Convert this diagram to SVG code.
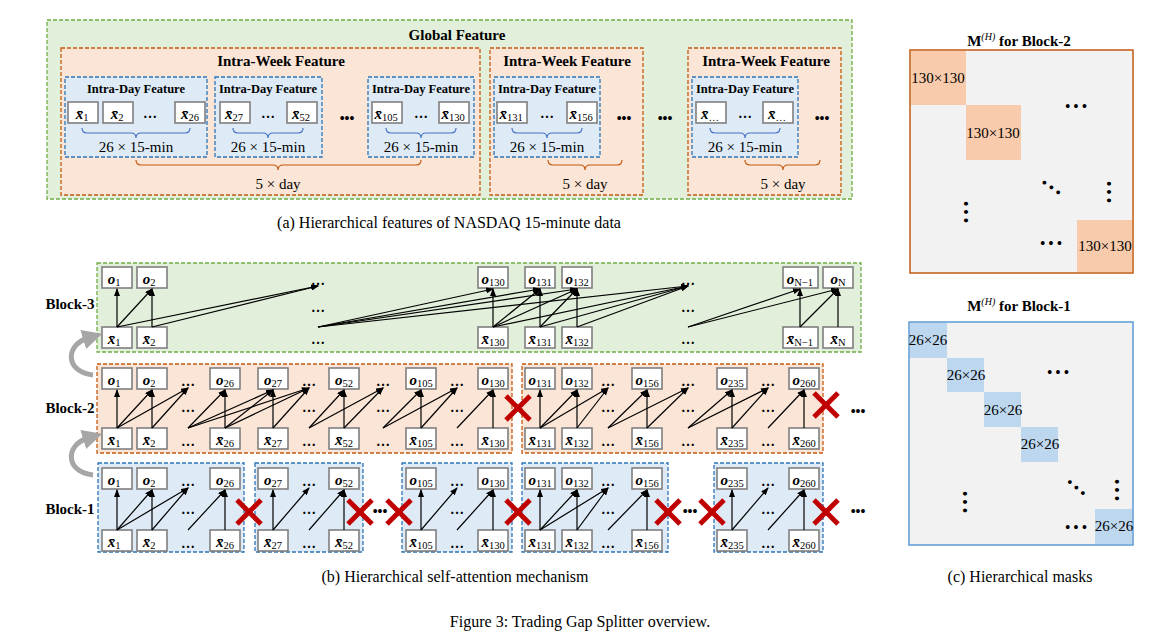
<svg xmlns="http://www.w3.org/2000/svg" width="1163" height="642" viewBox="0 0 1163 642">
<style>
text{font-family:"Liberation Serif",serif;fill:#000}
.t{font-weight:bold;font-size:15px;text-anchor:middle}
.ts{font-weight:bold;font-size:12.5px;text-anchor:middle}
.m{font-size:15px;text-anchor:middle}
.cap{font-size:16px;text-anchor:middle}
.v{font-weight:bold;font-style:italic;font-size:15px;text-anchor:middle}
.v tspan{font-style:normal;font-weight:normal;font-size:10.5px}
.d{font-weight:bold;font-size:14px;text-anchor:middle}
.c{fill:#fff;stroke:#7f7f7f;stroke-width:1.6}
.g{fill:#e2efda;stroke:#70ad47;stroke-width:1.3;stroke-dasharray:4 2}
.o{fill:#fbe5d6;stroke:#c55a11;stroke-width:1.3;stroke-dasharray:4 2}
.b{fill:#deebf7;stroke:#2e75b6;stroke-width:1.3;stroke-dasharray:4 2}
.br{fill:none;stroke:#4472c4;stroke-width:1.2}
.bo{fill:none;stroke:#c55a11;stroke-width:1.2}
#conn line{stroke:#000;stroke-width:1.2;marker-end:url(#ah)}
.x line{stroke:#c00000;stroke-width:5}
</style>
<defs>
<marker id="ah" markerWidth="8" markerHeight="6" refX="7" refY="3" orient="auto" markerUnits="userSpaceOnUse"><path d="M0,0L8,3L0,6z" fill="#000"/></marker>
<g id="X" class="x"><line x1="-12" y1="-12" x2="12" y2="12"/><line x1="12" y1="-12" x2="-12" y2="12"/></g>
</defs>
<rect width="1163" height="642" fill="#fff"/>

<!-- (a) -->
<g id="global">
<rect class="g" x="47" y="20" width="805" height="179"/>
<text class="t" x="457" y="40">Global Feature</text>
</g>
<g id="week1">
<rect class="o" x="61" y="48" width="419" height="147"/>
<text class="t" x="281" y="66" font-size="14">Intra-Week Feature</text>
<rect class="b" x="65" y="77" width="142" height="80"/>
<text class="ts" x="136" y="93">Intra-Day Feature</text>
<rect class="c" x="68" y="102" width="30" height="21"/><text class="v" x="82" y="119">x̄<tspan dy="2">1</tspan></text>
<rect class="c" x="103" y="102" width="30" height="21"/><text class="v" x="117" y="119">x̄<tspan dy="2">2</tspan></text>
<text class="d" x="150" y="118">…</text>
<rect class="c" x="175" y="102" width="30" height="21"/><text class="v" x="190" y="119">x̄<tspan dy="2">26</tspan></text>
<path class="br" d="M82,128q0,5 5,5h44q5,0 5,5q0,-5 5,-5h44q5,0 5,-5"/>
<text class="m" x="136" y="152">26 × 15-min</text>
<rect class="b" x="215" y="77" width="107" height="80"/>
<text class="ts" x="268" y="93">Intra-Day Feature</text>
<rect class="c" x="220" y="102" width="30" height="21"/><text class="v" x="234" y="119">x̄<tspan dy="2">27</tspan></text>
<text class="d" x="268" y="118">…</text>
<rect class="c" x="287" y="102" width="30" height="21"/><text class="v" x="301" y="119">x̄<tspan dy="2">52</tspan></text>
<path class="br" d="M233,128q0,5 5,5h25q5,0 5,5q0,-5 5,-5h25q5,0 5,-5"/>
<text class="m" x="268" y="152">26 × 15-min</text>
<text class="d" x="347" y="123">•••</text>
<rect class="b" x="368" y="77" width="106" height="80"/>
<text class="ts" x="421" y="93">Intra-Day Feature</text>
<rect class="c" x="372" y="102" width="30" height="21"/><text class="v" x="386" y="119">x̄<tspan dy="2">105</tspan></text>
<text class="d" x="421" y="118">…</text>
<rect class="c" x="439" y="102" width="30" height="21"/><text class="v" x="453" y="119">x̄<tspan dy="2">130</tspan></text>
<path class="br" d="M386,128q0,5 5,5h25q5,0 5,5q0,-5 5,-5h25q5,0 5,-5"/>
<text class="m" x="421" y="152">26 × 15-min</text>
<path class="bo" d="M136,160q0,5 5,5h132q5,0 5,5q0,-5 5,-5h133q5,0 5,-5"/>
<text class="m" x="278" y="189">5 × day</text>
</g>
<g id="week2">
<rect class="o" x="490" y="48" width="153" height="147"/>
<text class="t" x="567" y="66" font-size="14">Intra-Week Feature</text>
<rect class="b" x="494" y="77" width="106" height="80"/>
<text class="ts" x="547" y="93">Intra-Day Feature</text>
<rect class="c" x="497" y="102" width="30" height="21"/><text class="v" x="511" y="119">x̄<tspan dy="2">131</tspan></text>
<text class="d" x="547" y="118">…</text>
<rect class="c" x="567" y="102" width="30" height="21"/><text class="v" x="581" y="119">x̄<tspan dy="2">156</tspan></text>
<path class="br" d="M512,128q0,5 5,5h25q5,0 5,5q0,-5 5,-5h25q5,0 5,-5"/>
<text class="m" x="547" y="152">26 × 15-min</text>
<text class="d" x="624" y="123">•••</text>
<path class="bo" d="M548,160q0,5 5,5h27q5,0 5,5q0,-5 5,-5h27q5,0 5,-5"/>
<text class="m" x="585" y="189">5 × day</text>
</g>
<text class="d" x="665" y="123">•••</text>
<g id="week3">
<rect class="o" x="688" y="48" width="153" height="147"/>
<text class="t" x="766" y="66" font-size="14">Intra-Week Feature</text>
<rect class="b" x="692" y="77" width="106" height="80"/>
<text class="ts" x="745" y="93">Intra-Day Feature</text>
<rect class="c" x="696" y="102" width="30" height="21"/><text class="v" x="710" y="119">x̄<tspan dy="2">…</tspan></text>
<text class="d" x="745" y="118">…</text>
<rect class="c" x="763" y="102" width="30" height="21"/><text class="v" x="777" y="119">x̄<tspan dy="2">…</tspan></text>
<path class="br" d="M710,128q0,5 5,5h25q5,0 5,5q0,-5 5,-5h25q5,0 5,-5"/>
<text class="m" x="745" y="152">26 × 15-min</text>
<text class="d" x="822" y="123">•••</text>
<path class="bo" d="M745,160q0,5 5,5h28q5,0 5,5q0,-5 5,-5h27q5,0 5,-5"/>
<text class="m" x="783" y="189">5 × day</text>
</g>
<text class="cap" x="449" y="228">(a) Hierarchical features of NASDAQ 15-minute data</text>

<!-- (c) -->
<g id="mask2">
<text class="t" x="1019" y="46">M<tspan font-size="10" dy="-6" font-style="italic" font-weight="normal">(H)</tspan><tspan dy="6"> for Block-2</tspan></text>
<rect x="910" y="50" width="223" height="223" fill="#f2f2f2" stroke="#c55a11" stroke-width="1.5"/>
<rect x="911" y="51" width="55" height="54" fill="#f8cbad"/>
<rect x="966" y="105" width="55" height="55" fill="#f8cbad"/>
<rect x="1077" y="220" width="55" height="52" fill="#f8cbad"/>
<text class="m" x="938" y="83" font-size="13">130×130</text>
<text class="m" x="993" y="138" font-size="13">130×130</text>
<text class="m" x="1105" y="251" font-size="13">130×130</text>
<text class="d" x="1076" y="111">• • •</text>
<text class="d" x="1051" y="248">• • •</text>
<text class="d" x="961" y="212" transform="rotate(90 961 212)" text-anchor="middle">• • •</text>
<text class="d" x="1104" y="192" transform="rotate(90 1104 192)">• • •</text>
<text class="d" x="1051" y="192" transform="rotate(35 1051 188)">• • •</text>
</g>
<g id="mask1">
<text class="t" x="1019" y="311">M<tspan font-size="10" dy="-6" font-style="italic" font-weight="normal">(H)</tspan><tspan dy="6"> for Block-1</tspan></text>
<rect x="909" y="322" width="224" height="223" fill="#f2f2f2" stroke="#5b9bd5" stroke-width="1.5"/>
<rect x="910" y="323" width="37" height="35" fill="#bdd7ee"/>
<rect x="947" y="358" width="37" height="34" fill="#bdd7ee"/>
<rect x="984" y="392" width="37" height="35" fill="#bdd7ee"/>
<rect x="1021" y="427" width="37" height="35" fill="#bdd7ee"/>
<rect x="1095" y="509" width="37" height="35" fill="#bdd7ee"/>
<text class="m" x="928" y="345" font-size="11.5">26×26</text>
<text class="m" x="966" y="380" font-size="11.5">26×26</text>
<text class="m" x="1003" y="415" font-size="11.5">26×26</text>
<text class="m" x="1040" y="449" font-size="11.5">26×26</text>
<text class="m" x="1114" y="531" font-size="11.5">26×26</text>
<text class="d" x="1058" y="377">• • •</text>
<text class="d" x="1076" y="532">• • •</text>
<text class="d" x="960" y="502" transform="rotate(90 960 502)">• • •</text>
<text class="d" x="1112" y="490" transform="rotate(90 1112 490)">• • •</text>
<text class="d" x="1076" y="492" transform="rotate(40 1076 488)">• • •</text>
</g>
<text class="cap" x="1020" y="582">(c) Hierarchical masks</text>

<!-- (b) -->
<g id="block3">
<rect class="g" x="97" y="263" width="764" height="89"/>
<text class="t" x="70" y="309" font-size="14">Block-3</text>
<rect class="c" x="102" y="267" width="30" height="21"/><text class="v" x="114" y="284">o<tspan dy="2">1</tspan></text>
<rect class="c" x="137" y="267" width="30" height="21"/><text class="v" x="149" y="284">o<tspan dy="2">2</tspan></text>
<rect class="c" x="478" y="267" width="30" height="21"/><text class="v" x="493" y="284">o<tspan dy="2">130</tspan></text>
<rect class="c" x="525" y="267" width="30" height="21"/><text class="v" x="540" y="284">o<tspan dy="2">131</tspan></text>
<rect class="c" x="562" y="267" width="30" height="21"/><text class="v" x="577" y="284">o<tspan dy="2">132</tspan></text>
<rect class="c" x="783" y="267" width="35" height="21"/><text class="v" x="800" y="284">o<tspan dy="2">N−1</tspan></text>
<rect class="c" x="823" y="267" width="30" height="21"/><text class="v" x="838" y="284">o<tspan dy="2">N</tspan></text>
<rect class="c" x="102" y="327" width="30" height="21"/><text class="v" x="114" y="344">x̄<tspan dy="2">1</tspan></text>
<rect class="c" x="137" y="327" width="30" height="21"/><text class="v" x="149" y="344">x̄<tspan dy="2">2</tspan></text>
<rect class="c" x="478" y="327" width="30" height="21"/><text class="v" x="493" y="344">x̄<tspan dy="2">130</tspan></text>
<rect class="c" x="525" y="327" width="30" height="21"/><text class="v" x="540" y="344">x̄<tspan dy="2">131</tspan></text>
<rect class="c" x="562" y="327" width="30" height="21"/><text class="v" x="577" y="344">x̄<tspan dy="2">132</tspan></text>
<rect class="c" x="783" y="327" width="35" height="21"/><text class="v" x="800" y="344">x̄<tspan dy="2">N−1</tspan></text>
<rect class="c" x="823" y="327" width="30" height="21"/><text class="v" x="838" y="344">x̄<tspan dy="2">N</tspan></text>
<text class="d" x="318" y="285">…</text><text class="d" x="318" y="312">…</text><text class="d" x="318" y="344">…</text>
<text class="d" x="688" y="285">…</text><text class="d" x="688" y="312">…</text><text class="d" x="688" y="344">…</text>
</g>
<g id="block2">
<rect class="o" x="97" y="364" width="415" height="89"/>
<rect class="o" x="522" y="364" width="301" height="89"/>
<text class="t" x="70" y="413" font-size="14">Block-2</text>
<g>
<rect class="c" x="102" y="368" width="30" height="21"/><text class="v" x="114" y="385">o<tspan dy="2">1</tspan></text>
<rect class="c" x="137" y="368" width="30" height="21"/><text class="v" x="149" y="385">o<tspan dy="2">2</tspan></text>
<rect class="c" x="210" y="368" width="30" height="21"/><text class="v" x="225" y="385">o<tspan dy="2">26</tspan></text>
<rect class="c" x="258" y="368" width="30" height="21"/><text class="v" x="273" y="385">o<tspan dy="2">27</tspan></text>
<rect class="c" x="329" y="368" width="30" height="21"/><text class="v" x="344" y="385">o<tspan dy="2">52</tspan></text>
<rect class="c" x="406" y="368" width="30" height="21"/><text class="v" x="421" y="385">o<tspan dy="2">105</tspan></text>
<rect class="c" x="478" y="368" width="30" height="21"/><text class="v" x="493" y="385">o<tspan dy="2">130</tspan></text>
<rect class="c" x="525" y="368" width="30" height="21"/><text class="v" x="540" y="385">o<tspan dy="2">131</tspan></text>
<rect class="c" x="562" y="368" width="30" height="21"/><text class="v" x="577" y="385">o<tspan dy="2">132</tspan></text>
<rect class="c" x="632" y="368" width="30" height="21"/><text class="v" x="647" y="385">o<tspan dy="2">156</tspan></text>
<rect class="c" x="717" y="368" width="30" height="21"/><text class="v" x="732" y="385">o<tspan dy="2">235</tspan></text>
<rect class="c" x="789" y="368" width="30" height="21"/><text class="v" x="804" y="385">o<tspan dy="2">260</tspan></text>
<rect class="c" x="102" y="428" width="30" height="21"/><text class="v" x="114" y="445">x̄<tspan dy="2">1</tspan></text>
<rect class="c" x="137" y="428" width="30" height="21"/><text class="v" x="149" y="445">x̄<tspan dy="2">2</tspan></text>
<rect class="c" x="210" y="428" width="30" height="21"/><text class="v" x="225" y="445">x̄<tspan dy="2">26</tspan></text>
<rect class="c" x="258" y="428" width="30" height="21"/><text class="v" x="273" y="445">x̄<tspan dy="2">27</tspan></text>
<rect class="c" x="329" y="428" width="30" height="21"/><text class="v" x="344" y="445">x̄<tspan dy="2">52</tspan></text>
<rect class="c" x="406" y="428" width="30" height="21"/><text class="v" x="421" y="445">x̄<tspan dy="2">105</tspan></text>
<rect class="c" x="478" y="428" width="30" height="21"/><text class="v" x="493" y="445">x̄<tspan dy="2">130</tspan></text>
<rect class="c" x="525" y="428" width="30" height="21"/><text class="v" x="540" y="445">x̄<tspan dy="2">131</tspan></text>
<rect class="c" x="562" y="428" width="30" height="21"/><text class="v" x="577" y="445">x̄<tspan dy="2">132</tspan></text>
<rect class="c" x="632" y="428" width="30" height="21"/><text class="v" x="647" y="445">x̄<tspan dy="2">156</tspan></text>
<rect class="c" x="717" y="428" width="30" height="21"/><text class="v" x="732" y="445">x̄<tspan dy="2">235</tspan></text>
<rect class="c" x="789" y="428" width="30" height="21"/><text class="v" x="804" y="445">x̄<tspan dy="2">260</tspan></text>
</g>
<g class="d">
<text class="d" x="188" y="386">…</text><text class="d" x="188" y="412">…</text><text class="d" x="188" y="446">…</text>
<text class="d" x="309" y="386">…</text><text class="d" x="309" y="412">…</text><text class="d" x="309" y="446">…</text>
<text class="d" x="383" y="386">…</text><text class="d" x="383" y="412">…</text><text class="d" x="383" y="446">…</text>
<text class="d" x="457" y="386">…</text><text class="d" x="457" y="412">…</text><text class="d" x="457" y="446">…</text>
<text class="d" x="608" y="386">…</text><text class="d" x="608" y="412">…</text><text class="d" x="608" y="446">…</text>
<text class="d" x="688" y="386">…</text><text class="d" x="688" y="412">…</text><text class="d" x="688" y="446">…</text>
<text class="d" x="768" y="386">…</text><text class="d" x="768" y="412">…</text><text class="d" x="768" y="446">…</text>
<text class="d" x="858" y="416">•••</text>
</g>
<use href="#X" x="518" y="408"/><use href="#X" x="826" y="405"/>
</g>
<g id="block1">
<rect class="b" x="98" y="463" width="146" height="89"/>
<rect class="b" x="255" y="463" width="108" height="89"/>
<rect class="b" x="402" y="463" width="110" height="89"/>
<rect class="b" x="522" y="463" width="146" height="89"/>
<rect class="b" x="714" y="463" width="109" height="89"/>
<text class="t" x="70" y="514" font-size="14">Block-1</text>
<rect class="c" x="102" y="468" width="30" height="21"/><text class="v" x="114" y="485">o<tspan dy="2">1</tspan></text>
<rect class="c" x="137" y="468" width="30" height="21"/><text class="v" x="149" y="485">o<tspan dy="2">2</tspan></text>
<rect class="c" x="210" y="468" width="30" height="21"/><text class="v" x="225" y="485">o<tspan dy="2">26</tspan></text>
<rect class="c" x="258" y="468" width="30" height="21"/><text class="v" x="273" y="485">o<tspan dy="2">27</tspan></text>
<rect class="c" x="329" y="468" width="30" height="21"/><text class="v" x="344" y="485">o<tspan dy="2">52</tspan></text>
<rect class="c" x="406" y="468" width="30" height="21"/><text class="v" x="421" y="485">o<tspan dy="2">105</tspan></text>
<rect class="c" x="478" y="468" width="30" height="21"/><text class="v" x="493" y="485">o<tspan dy="2">130</tspan></text>
<rect class="c" x="525" y="468" width="30" height="21"/><text class="v" x="540" y="485">o<tspan dy="2">131</tspan></text>
<rect class="c" x="562" y="468" width="30" height="21"/><text class="v" x="577" y="485">o<tspan dy="2">132</tspan></text>
<rect class="c" x="632" y="468" width="30" height="21"/><text class="v" x="647" y="485">o<tspan dy="2">156</tspan></text>
<rect class="c" x="717" y="468" width="30" height="21"/><text class="v" x="732" y="485">o<tspan dy="2">235</tspan></text>
<rect class="c" x="789" y="468" width="30" height="21"/><text class="v" x="804" y="485">o<tspan dy="2">260</tspan></text>
<rect class="c" x="102" y="530" width="30" height="21"/><text class="v" x="114" y="547">x̄<tspan dy="2">1</tspan></text>
<rect class="c" x="137" y="530" width="30" height="21"/><text class="v" x="149" y="547">x̄<tspan dy="2">2</tspan></text>
<rect class="c" x="210" y="530" width="30" height="21"/><text class="v" x="225" y="547">x̄<tspan dy="2">26</tspan></text>
<rect class="c" x="258" y="530" width="30" height="21"/><text class="v" x="273" y="547">x̄<tspan dy="2">27</tspan></text>
<rect class="c" x="329" y="530" width="30" height="21"/><text class="v" x="344" y="547">x̄<tspan dy="2">52</tspan></text>
<rect class="c" x="406" y="530" width="30" height="21"/><text class="v" x="421" y="547">x̄<tspan dy="2">105</tspan></text>
<rect class="c" x="478" y="530" width="30" height="21"/><text class="v" x="493" y="547">x̄<tspan dy="2">130</tspan></text>
<rect class="c" x="525" y="530" width="30" height="21"/><text class="v" x="540" y="547">x̄<tspan dy="2">131</tspan></text>
<rect class="c" x="562" y="530" width="30" height="21"/><text class="v" x="577" y="547">x̄<tspan dy="2">132</tspan></text>
<rect class="c" x="632" y="530" width="30" height="21"/><text class="v" x="647" y="547">x̄<tspan dy="2">156</tspan></text>
<rect class="c" x="717" y="530" width="30" height="21"/><text class="v" x="732" y="547">x̄<tspan dy="2">235</tspan></text>
<rect class="c" x="789" y="530" width="30" height="21"/><text class="v" x="804" y="547">x̄<tspan dy="2">260</tspan></text>
<text class="d" x="188" y="486">…</text><text class="d" x="188" y="514">…</text><text class="d" x="188" y="548">…</text>
<text class="d" x="309" y="486">…</text><text class="d" x="309" y="514">…</text><text class="d" x="309" y="548">…</text>
<text class="d" x="457" y="486">…</text><text class="d" x="457" y="514">…</text><text class="d" x="457" y="548">…</text>
<text class="d" x="608" y="486">…</text><text class="d" x="608" y="514">…</text><text class="d" x="608" y="548">…</text>
<text class="d" x="768" y="486">…</text><text class="d" x="768" y="514">…</text><text class="d" x="768" y="548">…</text>
<text class="d" x="380" y="516">•••</text><text class="d" x="690" y="516">•••</text><text class="d" x="858" y="516">•••</text>
<use href="#X" x="249" y="512"/><use href="#X" x="360" y="512"/><use href="#X" x="399" y="512"/><use href="#X" x="518" y="512"/>
<use href="#X" x="668" y="512"/><use href="#X" x="712" y="512"/><use href="#X" x="826" y="512"/>
</g>
<g id="curves" fill="none" stroke="#a6a6a6" stroke-width="5">
<path d="M93,375C65,372 65,345 88,338" marker-end="url(#gh)"/>
<path d="M93,475C65,472 65,445 88,438" marker-end="url(#gh)"/>
</g>
<defs><marker id="gh" markerWidth="4" markerHeight="4" refX="1" refY="2" orient="auto"><path d="M0,0L4,2L0,4z" fill="#a6a6a6"/></marker></defs>

<g id="conn">
<line x1="117" y1="327" x2="117" y2="289"/><line x1="117" y1="327" x2="152" y2="289"/><line x1="117" y1="327" x2="318" y2="286"/>
<line x1="152" y1="327" x2="152" y2="289"/><line x1="152" y1="327" x2="318" y2="286"/>
<line x1="318" y1="327" x2="493" y2="289"/><line x1="318" y1="327" x2="540" y2="289"/><line x1="318" y1="327" x2="577" y2="289"/><line x1="318" y1="327" x2="688" y2="286"/>
<line x1="493" y1="327" x2="493" y2="289"/><line x1="493" y1="327" x2="540" y2="289"/><line x1="493" y1="327" x2="577" y2="289"/><line x1="493" y1="327" x2="688" y2="286"/>
<line x1="540" y1="327" x2="540" y2="289"/><line x1="540" y1="327" x2="577" y2="289"/><line x1="540" y1="327" x2="688" y2="286"/>
<line x1="577" y1="327" x2="577" y2="289"/><line x1="577" y1="327" x2="688" y2="286"/>
<line x1="688" y1="327" x2="800" y2="289"/><line x1="688" y1="327" x2="838" y2="289"/>
<line x1="800" y1="327" x2="800" y2="289"/><line x1="800" y1="327" x2="838" y2="289"/><line x1="838" y1="327" x2="838" y2="289"/>

<line x1="117" y1="428" x2="117" y2="390"/><line x1="117" y1="428" x2="152" y2="390"/><line x1="117" y1="428" x2="188" y2="388"/>
<line x1="152" y1="428" x2="152" y2="390"/><line x1="152" y1="428" x2="188" y2="388"/>
<line x1="188" y1="428" x2="225" y2="390"/><line x1="188" y1="428" x2="273" y2="390"/><line x1="188" y1="428" x2="309" y2="388"/>
<line x1="225" y1="428" x2="225" y2="390"/><line x1="225" y1="428" x2="273" y2="390"/><line x1="225" y1="428" x2="309" y2="388"/>
<line x1="273" y1="428" x2="273" y2="390"/><line x1="273" y1="428" x2="309" y2="388"/>
<line x1="309" y1="428" x2="344" y2="390"/><line x1="309" y1="428" x2="383" y2="388"/>
<line x1="344" y1="428" x2="344" y2="390"/><line x1="344" y1="428" x2="383" y2="388"/>
<line x1="383" y1="428" x2="421" y2="390"/><line x1="383" y1="428" x2="457" y2="388"/>
<line x1="421" y1="428" x2="421" y2="390"/><line x1="421" y1="428" x2="457" y2="388"/>
<line x1="457" y1="428" x2="493" y2="390"/><line x1="493" y1="428" x2="493" y2="390"/>
<line x1="540" y1="428" x2="540" y2="390"/><line x1="540" y1="428" x2="577" y2="390"/><line x1="540" y1="428" x2="608" y2="388"/>
<line x1="577" y1="428" x2="577" y2="390"/><line x1="577" y1="428" x2="608" y2="388"/>
<line x1="608" y1="428" x2="647" y2="390"/><line x1="608" y1="428" x2="688" y2="388"/>
<line x1="647" y1="428" x2="647" y2="390"/><line x1="647" y1="428" x2="688" y2="388"/>
<line x1="688" y1="428" x2="732" y2="390"/><line x1="688" y1="428" x2="768" y2="388"/>
<line x1="732" y1="428" x2="732" y2="390"/><line x1="732" y1="428" x2="768" y2="388"/>
<line x1="768" y1="428" x2="804" y2="390"/><line x1="804" y1="428" x2="804" y2="390"/>

<line x1="117" y1="530" x2="117" y2="490"/><line x1="117" y1="530" x2="152" y2="490"/><line x1="117" y1="530" x2="188" y2="488"/>
<line x1="152" y1="530" x2="152" y2="490"/><line x1="152" y1="530" x2="188" y2="488"/>
<line x1="188" y1="530" x2="225" y2="490"/><line x1="225" y1="530" x2="225" y2="490"/>
<line x1="273" y1="530" x2="273" y2="490"/><line x1="273" y1="530" x2="309" y2="488"/>
<line x1="309" y1="530" x2="344" y2="490"/><line x1="344" y1="530" x2="344" y2="490"/>
<line x1="421" y1="530" x2="421" y2="490"/><line x1="421" y1="530" x2="457" y2="488"/>
<line x1="457" y1="530" x2="493" y2="490"/><line x1="493" y1="530" x2="493" y2="490"/>
<line x1="540" y1="530" x2="540" y2="490"/><line x1="540" y1="530" x2="577" y2="490"/><line x1="540" y1="530" x2="608" y2="488"/>
<line x1="577" y1="530" x2="577" y2="490"/><line x1="577" y1="530" x2="608" y2="488"/>
<line x1="608" y1="530" x2="647" y2="490"/><line x1="647" y1="530" x2="647" y2="490"/>
<line x1="732" y1="530" x2="732" y2="490"/><line x1="732" y1="530" x2="768" y2="488"/>
<line x1="768" y1="530" x2="804" y2="490"/><line x1="804" y1="530" x2="804" y2="490"/>
</g>
<text class="cap" x="455" y="582">(b) Hierarchical self-attention mechanism</text>
<text class="cap" x="580" y="627" font-size="17">Figure 3: Trading Gap Splitter overview.</text>
</svg>
